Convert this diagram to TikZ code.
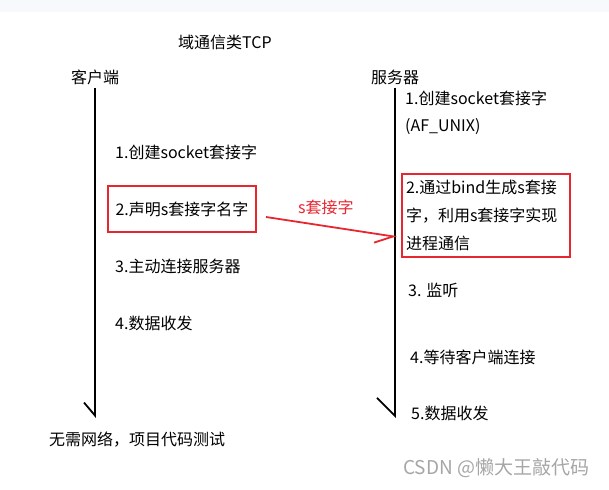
\documentclass[tikz,border=0pt]{standalone}
\usepackage{fontspec}
\setmainfont{Noto Sans CJK SC}
\usetikzlibrary{arrows.meta, positioning}
\definecolor{boxred}{RGB}{232,38,48}
\definecolor{topgrey}{RGB}{248,249,252}

\begin{document}
\begin{tikzpicture}[x=1pt, y=-1pt,
    lbl/.style={anchor=west, inner sep=0pt, font=\fontsize{16}{19}\selectfont},
    redbox/.style={draw=boxred, line width=1.6pt},
    lifeline/.style={line width=1.8pt}]

            \useasboundingbox (0,0) rectangle (609,489);
            \fill[topgrey] (0,0) rectangle (609,12);

            % titles
            \node[lbl] (title) at (178,42) {域通信类TCP};
            \node[lbl] (client) at (71,77) {客户端};
            \node[lbl] (server) at (371,77) {服务器};

            % client side
            \node[lbl] (c1) at (115,152) {1.创建socket套接字};
            \node[redbox, inner sep=0pt, minimum width=148pt, minimum height=46pt,
                font=\fontsize{16}{19}\selectfont] (c2) at (182,209) {2.声明s套接字名字};
            \node[lbl] (c3) at (115,266) {3.主动连接服务器};
            \node[lbl] (c4) at (115,323) {4.数据收发};
            \node[lbl] (note) at (49,440) {无需网络，项目代码测试};

            % server side
            \node[lbl] (s1) at (405,98) {1.创建socket套接字};
            \node[lbl] (s1b) at (405,127) {(AF\_UNIX)};
            \node[redbox, inner sep=0pt, minimum width=168pt, minimum height=83pt,
                text width=160pt, align=left,
                font=\fontsize{16}{28}\selectfont] (s2) at (486,215.5)
                {2.通过bind生成s套接\\字，利用s套接字实现\\进程通信};
            \node[lbl] (s3) at (408,290) {3. 监听};
            \node[lbl] (s4) at (410,357) {4.等待客户端连接};
            \node[lbl] (s5) at (411,413) {5.数据收发};

            % time lines
            \coordinate (ctop) at (95,88);
            \coordinate (cbot) at (95,418);
            \coordinate (stop) at (395,88);
            \coordinate (sbot) at (395,418);
            \draw[lifeline, -{Straight Barb[right, length=13pt, width=22pt]}] (ctop) -- (cbot);
            \draw[lifeline, -{Straight Barb[right, length=18pt, width=36pt]}] (stop) -- (sbot);

            % socket name passed over
            \node[lbl, text=boxred] (slabel) at (298,207) {s套接字};
            \coordinate (sfrom) at (266,217);
            \coordinate (sto) at (397,237);
            \draw[boxred, line width=1.8pt, -{Straight Barb[right, length=18pt, width=18pt]}] (sfrom) -- (sto);

            \node[lbl, text=gray!70, font=\fontsize{19}{22}\selectfont] (mark) at (403,468) {CSDN @懒大王敲代码};

        \end{tikzpicture}
\end{document}
